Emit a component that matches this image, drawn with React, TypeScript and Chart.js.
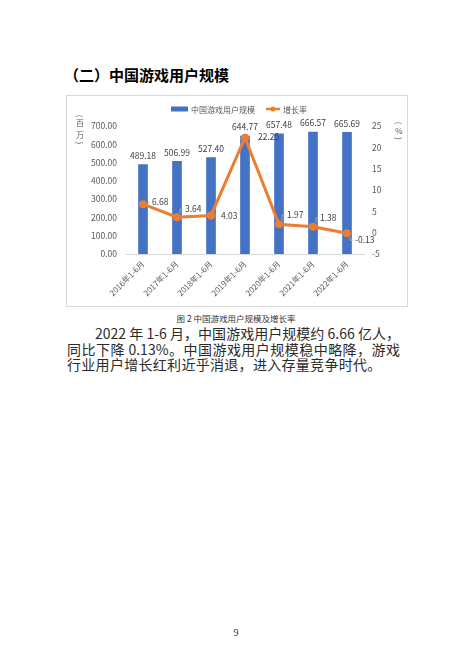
import React, { useEffect, useRef } from "react";
import { Chart, registerables } from "chart.js";

Chart.register(...registerables);

// ---------- data ----------
const CATEGORIES = [
  "2016年1-6月",
  "2017年1-6月",
  "2018年1-6月",
  "2019年1-6月",
  "2020年1-6月",
  "2021年1-6月",
  "2022年1-6月",
];
const USERS = [489.18, 506.99, 527.4, 644.77, 657.48, 666.57, 665.69];
const GROWTH = [6.68, 3.64, 4.03, 22.25, 1.97, 1.38, -0.13];
const SERIES_NAMES = ["中国游戏用户规模", "增长率"];
const LEFT_RANGE = [0, 700, 100];
const RIGHT_RANGE = [-5, 25, 5];
const LEFT_UNIT = ["(", "百", "万", ")"];
const RIGHT_UNIT = ["(", "%", ")"];

// ---------- label styling (offsets from each point) ----------
const GROWTH_LABEL_OFFSET: [number, number][] = [
  [9, -2],
  [8, -8],
  [10, 0],
  [13, -1],
  [8, -9],
  [7, -9],
  [8, 7],
];
const GROWTH_LABEL_LEADER = [true, true, false, false, true, true, true];

const FONT = '"Noto Sans CJK SC", "Noto Sans", sans-serif';
const BLUE = "#4472C4";
const ORANGE = "#ED7D31";
const TICK = "#595959";
const LABEL = "#404040";

const valueLabels = {
  id: "valueLabels",
  afterDatasetsDraw(chart: any) {
    const ctx = chart.ctx as CanvasRenderingContext2D;
    ctx.save();
    ctx.font = `8.5px ${FONT}`;
    ctx.fillStyle = LABEL;
    ctx.textBaseline = "middle";
    const barMeta = chart.getDatasetMeta(0);
    const barData = chart.data.datasets[0].data as number[];
    ctx.textAlign = "center";
    barMeta.data.forEach((el: any, i: number) => {
      ctx.fillText(barData[i].toFixed(2), el.x, el.y - 9);
    });
    const lineMeta = chart.getDatasetMeta(1);
    const lineData = chart.data.datasets[1].data as number[];
    ctx.textAlign = "left";
    lineMeta.data.forEach((el: any, i: number) => {
      const [dx, dy] = GROWTH_LABEL_OFFSET[i];
      const lx = el.x + dx;
      const ly = el.y + dy;
      if (GROWTH_LABEL_LEADER[i]) {
        ctx.save();
        ctx.strokeStyle = "#b3b3b3";
        ctx.lineWidth = 0.8;
        ctx.beginPath();
        if (Math.abs(dy) > 5) {
          const sx = el.x + 3;
          const sy = el.y + (dy < 0 ? -4 : 4);
          ctx.moveTo(sx, sy);
          ctx.lineTo(sx, ly);
          ctx.lineTo(lx - 2, ly);
        } else {
          ctx.moveTo(el.x + 5, ly);
          ctx.lineTo(lx - 2, ly);
        }
        ctx.stroke();
        ctx.restore();
      }
      ctx.fillText(lineData[i].toFixed(2), lx, ly);
    });
    ctx.restore();
  },
};

const customLegend = {
  id: "customLegend",
  afterDraw(chart: any) {
    const ctx = chart.ctx as CanvasRenderingContext2D;
    ctx.save();
    ctx.font = `8px ${FONT}`;
    ctx.fillStyle = TICK;
    ctx.textBaseline = "middle";
    ctx.textAlign = "left";
    const ds = chart.data.datasets;
    const symW = [17, 14];
    const gapSym = 3;
    const gapItem = 11;
    const widths = ds.map((d: any, i: number) => symW[i] + gapSym + ctx.measureText(d.label).width);
    const total = widths.reduce((a: number, b: number) => a + b, 0) + gapItem * (ds.length - 1);
    let x = chart.width / 2 - total / 2 + 2;
    const y = 13;
    ds.forEach((d: any, i: number) => {
      if (d.type === "bar") {
        ctx.fillStyle = d.backgroundColor;
        ctx.fillRect(x, y - 2.5, symW[i], 5);
      } else {
        ctx.strokeStyle = d.borderColor;
        ctx.lineWidth = 2.5;
        ctx.beginPath();
        ctx.moveTo(x, y);
        ctx.lineTo(x + symW[i], y);
        ctx.stroke();
        ctx.fillStyle = d.borderColor;
        ctx.beginPath();
        ctx.arc(x + symW[i] / 2, y, 2.5, 0, Math.PI * 2);
        ctx.fill();
      }
      ctx.fillStyle = TICK;
      ctx.fillText(d.label, x + symW[i] + gapSym, y + 0.5);
      x += widths[i] + gapItem;
    });
    ctx.restore();
  },
};

function drawStacked(ctx: CanvasRenderingContext2D, chars: string[], x: number, ys: number[]) {
  chars.forEach((c, i) => {
    if (c === "(" || c === ")") {
      ctx.save();
      ctx.translate(x, ys[i]);
      ctx.rotate(Math.PI / 2);
      ctx.fillText(c, 0, 0);
      ctx.restore();
    } else {
      ctx.fillText(c, x, ys[i]);
    }
  });
}

const axisUnits = {
  id: "axisUnits",
  afterDraw(chart: any) {
    const ctx = chart.ctx as CanvasRenderingContext2D;
    ctx.save();
    ctx.font = `8px ${FONT}`;
    ctx.fillStyle = TICK;
    ctx.textAlign = "center";
    ctx.textBaseline = "middle";
    drawStacked(ctx, LEFT_UNIT, 13, [20, 26.5, 39, 47]);
    drawStacked(ctx, RIGHT_UNIT, 332, [27, 34.7, 42.5]);
    ctx.restore();
  },
};

export default function App() {
  const ref = useRef<HTMLCanvasElement>(null);

  useEffect(() => {
    const chart = new Chart(ref.current as HTMLCanvasElement, {
      type: "bar",
      data: {
        labels: CATEGORIES,
        datasets: [
          {
            type: "bar",
            label: SERIES_NAMES[0],
            data: USERS,
            backgroundColor: BLUE,
            barThickness: 9,
            yAxisID: "y",
            order: 2,
          } as any,
          {
            type: "line",
            label: SERIES_NAMES[1],
            data: GROWTH,
            borderColor: ORANGE,
            backgroundColor: ORANGE,
            borderWidth: 3,
            pointRadius: 4,
            pointBackgroundColor: ORANGE,
            pointBorderWidth: 0,
            tension: 0,
            yAxisID: "y1",
            order: 1,
          } as any,
        ],
      },
      options: {
        responsive: false,
        animation: false,
        layout: { padding: { top: 30, left: 0, right: 0, bottom: 0 } },
        plugins: {
          legend: { display: false },
          tooltip: { enabled: false },
        },
        scales: {
          x: {
            grid: { display: false, drawTicks: false },
            border: { display: true, color: "#d9d9d9", width: 1 },
            ticks: {
              color: TICK,
              font: { size: 8, family: FONT },
              maxRotation: 45,
              minRotation: 45,
              padding: 5,
              autoSkip: false,
            },
            afterFit: (s: any) => {
              s.height = 52;
            },
          },
          y: {
            position: "left",
            min: LEFT_RANGE[0],
            max: LEFT_RANGE[1],
            grid: { display: false, drawTicks: false },
            border: { display: false },
            ticks: {
              stepSize: LEFT_RANGE[2],
              color: TICK,
              font: { size: 8.5, family: FONT },
              padding: 9,
              callback: (v: any) => Number(v).toFixed(2),
            },
            afterFit: (s: any) => {
              s.width = 59;
            },
          },
          y1: {
            position: "right",
            min: RIGHT_RANGE[0],
            max: RIGHT_RANGE[1],
            grid: { display: false, drawTicks: false },
            border: { display: false },
            ticks: {
              stepSize: RIGHT_RANGE[2],
              color: TICK,
              font: { size: 8.5, family: FONT },
              padding: 8,
            },
            afterFit: (s: any) => {
              s.width = 43;
            },
          },
        },
      } as any,
      plugins: [valueLabels, customLegend, axisUnits],
    });
    return () => chart.destroy();
  }, []);

  const bodyFont = '"Noto Sans CJK SC", sans-serif';
  return (
    <div
      style={{
        position: "absolute",
        left: 0,
        top: 0,
        width: 474,
        height: 669,
        background: "#fff",
        fontFamily: bodyFont,
        color: "#2b2b2b",
      }}
    >
      <div
        style={{
          position: "absolute",
          left: 64,
          top: 65,
          fontSize: 15,
          fontWeight: 700,
          lineHeight: "20px",
          whiteSpace: "nowrap",
          color: "#000",
        }}
      >
        （二）中国游戏用户规模
      </div>
      <div
        style={{
          position: "absolute",
          left: 66,
          top: 95,
          width: 342,
          height: 212,
          border: "1px solid #d9d9d9",
          boxSizing: "border-box",
        }}
      >
        <canvas ref={ref} width={340} height={210} style={{ display: "block", width: 340, height: 210 }} />
      </div>
      <div
        style={{
          position: "absolute",
          left: 0,
          width: 472,
          top: 312,
          fontSize: 8.5,
          lineHeight: "12px",
          textAlign: "center",
          color: "#333",
          whiteSpace: "nowrap",
        }}
      >
        图 2 中国游戏用户规模及增长率
      </div>
      <div
        style={{
          position: "absolute",
          left: 67,
          width: 333,
          top: 326,
          fontSize: 14,
          lineHeight: "15.6px",
          color: "#2b2b2b",
        }}
      >
        <div style={{ textAlign: "justify", textAlignLast: "justify", paddingLeft: 28, whiteSpace: "nowrap" } as any}>
          2022 年 1-6 月，中国游戏用户规模约 6.66 亿人，
        </div>
        <div style={{ textAlign: "justify", textAlignLast: "justify", whiteSpace: "nowrap" } as any}>
          同比下降 0.13%。中国游戏用户规模稳中略降，游戏
        </div>
        <div style={{ whiteSpace: "nowrap", letterSpacing: 0.3 }}>行业用户增长红利近乎消退，进入存量竞争时代。</div>
      </div>
      <div
        style={{
          position: "absolute",
          left: 0,
          width: 472,
          top: 626,
          fontSize: 10,
          lineHeight: "14px",
          textAlign: "center",
          fontFamily: '"Liberation Serif", serif',
          color: "#333",
        }}
      >
        9
      </div>
    </div>
  );
}
